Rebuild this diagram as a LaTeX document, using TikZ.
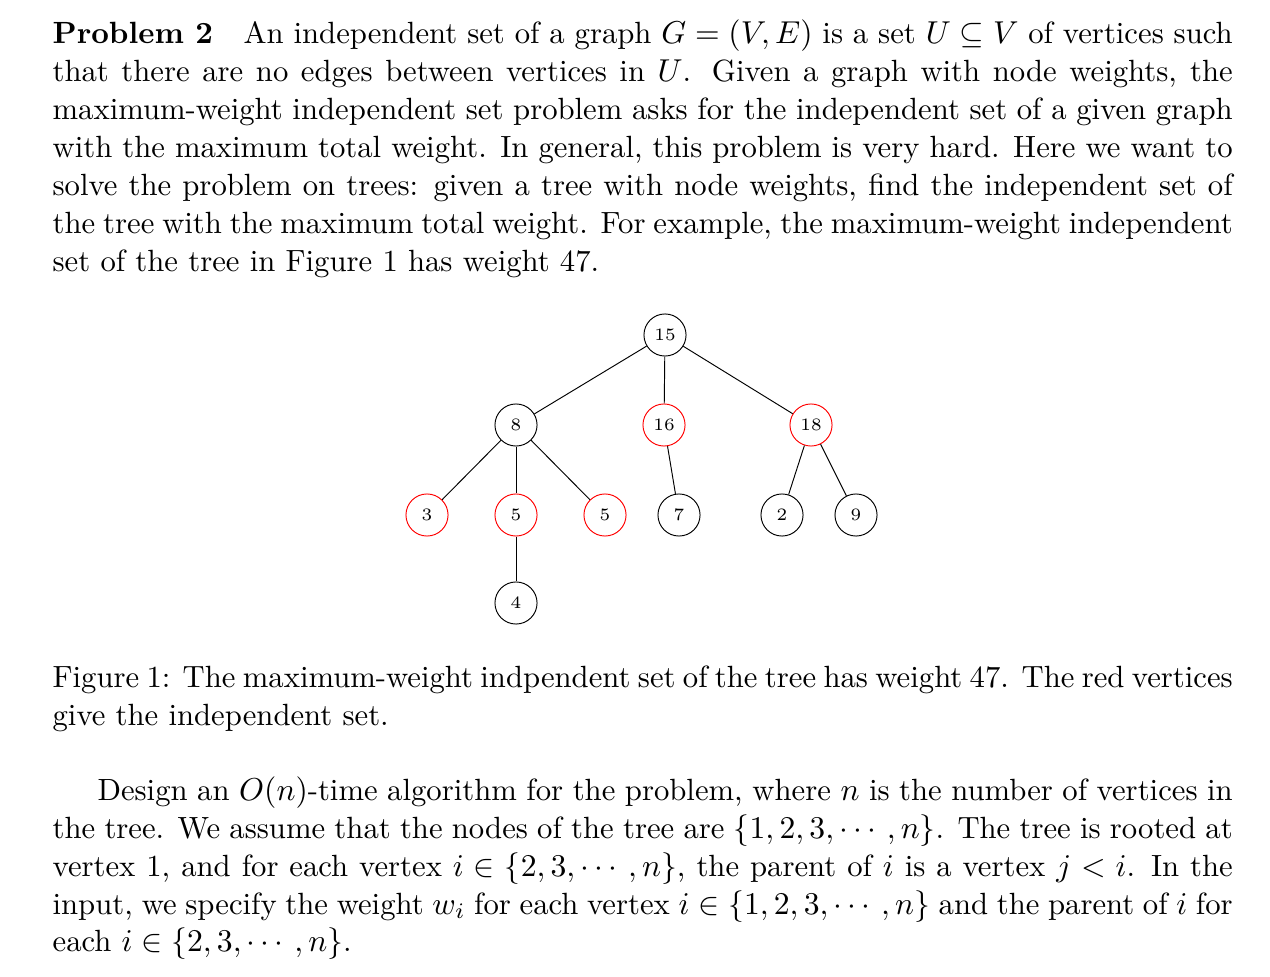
\documentclass[tikz,border=0pt]{standalone}
\usepackage{amsmath,amssymb}
\newcommand\myjust[1]{\hbox to 372.9pt{#1}}
\begin{document}
\begin{tikzpicture}[x=0.316pt,y=-0.316pt,
  vtx/.style={circle,draw,line width=0.3pt,minimum size=13.3pt,inner sep=0pt,font=\fontsize{5.5}{7}\selectfont},
  red vtx/.style={vtx,draw=red},
  ln/.style={anchor=base west,inner sep=0pt,font=\fontsize{9.7}{12}\selectfont}]
\useasboundingbox (0,0) rectangle (1270,977);
\node[ln] (p1a) at (52,44) {\myjust{\textbf{Problem 2}\quad An independent set of a graph $G=(V,E)$ is a set $U\subseteq V$ of vertices such}};
\node[ln] (p1b) at (52,82) {\myjust{that there are no edges between vertices in $U$. Given a graph with node weights, the}};
\node[ln] (p1c) at (52,120) {\myjust{maximum-weight independent set problem asks for the independent set of a given graph}};
\node[ln] (p1d) at (52,158) {\myjust{with the maximum total weight. In general, this problem is very hard. Here we want to}};
\node[ln] (p1e) at (52,196) {\myjust{solve the problem on trees: given a tree with node weights, find the independent set of}};
\node[ln] (p1f) at (52,234) {\myjust{the tree with the maximum total weight. For example, the maximum-weight independent}};
\node[ln] (p1g) at (52,272) {set of the tree in Figure 1 has weight 47.};
\node[vtx] (a) at (665,335) {15};
\node[vtx] (b) at (516,425) {8};
\node[red vtx] (c) at (664,425) {16};
\node[red vtx] (d) at (811,425) {18};
\node[red vtx] (e) at (427,515) {3};
\node[red vtx] (f) at (516,515) {5};
\node[red vtx] (g) at (605,515) {5};
\node[vtx] (h) at (679,515) {7};
\node[vtx] (i) at (782,515) {2};
\node[vtx] (j) at (856,515) {9};
\node[vtx] (k) at (516,603) {4};
\foreach \u/\v in {a/b,a/c,a/d,b/e,b/f,b/g,c/h,d/i,d/j,f/k}
  \draw[line width=0.3pt] (\u) -- (\v);
\node[ln] (capa) at (52,687) {\myjust{Figure 1: The maximum-weight indpendent set of the tree has weight 47. The red vertices}};
\node[ln] (capb) at (52,725) {give the independent set.};
\node[ln] (p3a) at (52,800) {\myjust{\hspace*{14.2pt}Design an $O(n)$-time algorithm for the problem, where $n$ is the number of vertices in}};
\node[ln] (p3b) at (52,838) {\myjust{the tree. We assume that the nodes of the tree are $\{1,2,3,\cdots,n\}$. The tree is rooted at}};
\node[ln] (p3c) at (52,876) {\myjust{vertex 1, and for each vertex $i\in\{2,3,\cdots,n\}$, the parent of $i$ is a vertex $j<i$. In the}};
\node[ln] (p3d) at (52,914) {\myjust{input, we specify the weight $w_i$ for each vertex $i\in\{1,2,3,\cdots,n\}$ and the parent of $i$ for}};
\node[ln] (p3e) at (52,951) {each $i\in\{2,3,\cdots,n\}$.};
\end{tikzpicture}
\end{document}
